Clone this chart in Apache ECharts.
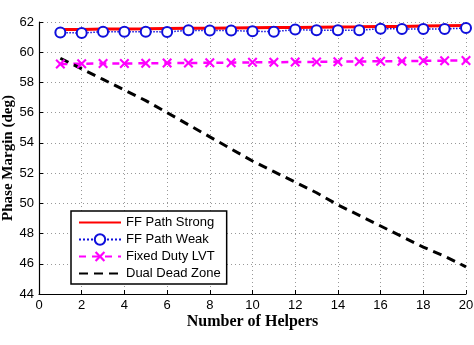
<!DOCTYPE html>
<html>
<head>
<meta charset="utf-8">
<script src="https://cdn.jsdelivr.net/npm/echarts@6/dist/echarts.min.js"></script>
<style>html,body{margin:0;padding:0;background:#fff;}#c{width:474px;height:345px;}</style>
</head>
<body>
<div id="c"></div>
<script>
var helpers = [1,2,3,4,5,6,7,8,9,10,11,12,13,14,15,16,17,18,19,20];
var ffStrong = [61.50,61.51,61.53,61.54,61.55,61.57,61.58,61.59,61.61,61.62,61.63,61.64,61.66,61.67,61.68,61.70,61.71,61.73,61.75,61.77];
var ffWeak = [61.30,61.27,61.36,61.36,61.36,61.34,61.45,61.43,61.43,61.39,61.36,61.50,61.45,61.45,61.45,61.56,61.54,61.54,61.54,61.60];
var fixedDuty = [59.22,59.24,59.25,59.25,59.27,59.28,59.29,59.30,59.31,59.33,59.34,59.35,59.36,59.37,59.39,59.40,59.41,59.43,59.44,59.46];
var dualDead = [59.6,58.9,58.2,57.5,56.8,56.0,55.2,54.4,53.6,52.8,52.1,51.4,50.7,49.9,49.2,48.5,47.8,47.1,46.5,45.8];
var xTicks = [0,2,4,6,8,10,12,14,16,18,20];
var yTicks = [44,46,48,50,52,54,56,58,60,62];

function pairs(v){ return helpers.map(function(h,i){ return [h, v[i]]; }); }

var xMark = 'path://M0,1.5L1.5,0L5,3.5L8.5,0L10,1.5L6.5,5L10,8.5L8.5,10L5,6.5L1.5,10L0,8.5L3.5,5Z';

var chart = echarts.init(document.getElementById('c'));
chart.setOption({
  animation: false,
  backgroundColor: '#fff',
  grid: {left: 39, right: 8, top: 22, bottom: 51, containLabel: false, outerBoundsMode: 'none'},
  xAxis: {
    type: 'value', min: xTicks[0], max: xTicks[xTicks.length-1], interval: 2,
    name: 'Number of Helpers', nameLocation: 'middle', nameGap: 20, nameMoveOverlap: false,
    nameTextStyle: {fontFamily: 'Liberation Serif', fontWeight: 'bold', fontSize: 16, color: '#000'},
    axisLine: {lineStyle: {color: '#000', width: 1.2}},
    axisTick: {inside: true, length: 4, lineStyle: {color: '#000'}},
    axisLabel: {fontFamily: 'Liberation Sans', fontSize: 13, color: '#000', margin: 5},
    splitLine: {show: true, lineStyle: {type: [1,3], color: '#999', width: 1}}
  },
  yAxis: {
    type: 'value', min: yTicks[0], max: yTicks[yTicks.length-1], interval: 2,
    name: 'Phase Margin (deg)', nameLocation: 'middle', nameGap: 23, nameMoveOverlap: false,
    nameTextStyle: {fontFamily: 'Liberation Serif', fontWeight: 'bold', fontSize: 15, color: '#000'},
    axisLine: {lineStyle: {color: '#000', width: 1.2}},
    axisTick: {inside: true, length: 4, lineStyle: {color: '#000'}},
    axisLabel: {fontFamily: 'Liberation Sans', fontSize: 13, color: '#000', margin: 5},
    splitLine: {show: true, lineStyle: {type: [1,3], color: '#999', width: 1}}
  },
  legend: {
    orient: 'vertical', left: 71, top: 211, width: 150,
    padding: [5, 6, 4, 7], itemGap: 4, itemWidth: 42, itemHeight: 13,
    backgroundColor: '#fff', borderColor: '#000', borderWidth: 1.5, borderRadius: 0,
    textStyle: {fontFamily: 'Liberation Sans', fontSize: 13, color: '#000'},
    data: [
      {name: 'FF Path Strong', itemStyle: {opacity: 0}},
      'FF Path Weak',
      'Fixed Duty LVT',
      {name: 'Dual Dead Zone', itemStyle: {opacity: 0}}
    ]
  },
  series: [
    {name: 'FF Path Strong', type: 'line', data: pairs(ffStrong), showSymbol: false, symbol: 'none',
     lineStyle: {color: '#ff0000', width: 3}, itemStyle: {color: '#ff0000'}},
    {name: 'FF Path Weak', type: 'line', data: pairs(ffWeak), symbol: 'emptyCircle', symbolSize: 10,
     lineStyle: {color: '#0f0fdc', width: 1.5, type: 'dotted'},
     itemStyle: {color: '#0f0fdc', borderColor: '#0f0fdc', borderWidth: 3}},
    {name: 'Fixed Duty LVT', type: 'line', data: pairs(fixedDuty), symbol: xMark, symbolSize: 10,
     lineStyle: {color: '#ff00ff', width: 2.5, type: [7,6]},
     itemStyle: {color: '#ff00ff'}},
    {name: 'Dual Dead Zone', type: 'line', data: pairs(dualDead), symbol: 'none', showSymbol: false,
     lineStyle: {color: '#000', width: 3, type: [9,6]}, itemStyle: {color: '#000'}}
  ]
});
</script>
</body>
</html>
